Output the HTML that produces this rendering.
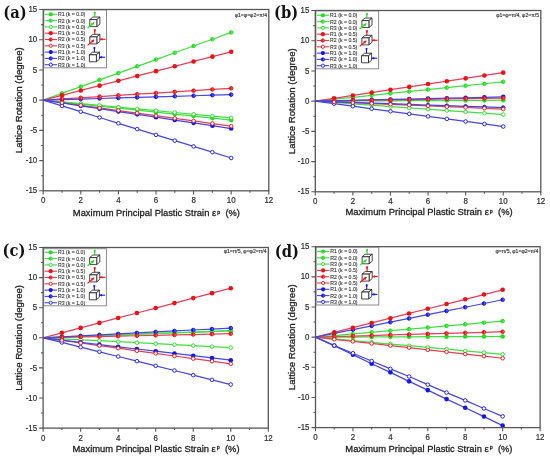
<!DOCTYPE html>
<html><head><meta charset="utf-8"><title>Lattice Rotation</title>
<style>
html,body{margin:0;padding:0;background:#fff;width:550px;height:458px;overflow:hidden}
svg{display:block}
.tk{font-family:"Liberation Sans",Arial,sans-serif;font-size:8.8px;fill:#2a2a2a;stroke:#2a2a2a;stroke-width:0.18px}
.ti{font-family:"Liberation Sans",Arial,sans-serif;font-size:9.4px;fill:#1e1e1e;stroke:#1e1e1e;stroke-width:0.3px}
.sp{font-size:5.2px}
.pc{font-size:10px}
.yt{font-size:9.65px}
.lg{font-family:"Liberation Sans",Arial,sans-serif;font-size:5.2px;fill:#333;stroke:#333;stroke-width:0.12px}
.nt{font-family:"Liberation Sans",Arial,sans-serif;font-size:5.1px;fill:#333;stroke:#333;stroke-width:0.15px}
.pl{font-family:"DejaVu Serif","Liberation Serif",serif;font-weight:bold;font-size:17.5px;fill:#111}
</style></head><body>
<svg width="550" height="458" viewBox="0 0 550 458">
<rect width="550" height="458" fill="#fff"/>
<g stroke-linejoin="round">
<polyline points="43.2,100.15 62,102.14 80.8,104.14 99.6,106.13 118.4,108.13 137.2,110.12 156,112.12 174.8,114.11 193.6,116.1 212.4,118.1 231.2,120.09" fill="none" stroke="#44de44" stroke-width="1.25"/>
<polyline points="43.2,100.15 62,93.38 80.8,86.61 99.6,79.84 118.4,73.08 137.2,66.31 156,59.54 174.8,52.77 193.6,46 212.4,39.23 231.2,32.46" fill="none" stroke="#44de44" stroke-width="1.25"/>
<polyline points="43.2,100.15 62,101.91 80.8,103.68 99.6,105.44 118.4,107.21 137.2,108.97 156,110.74 174.8,112.5 193.6,114.27 212.4,116.03 231.2,117.8" fill="none" stroke="#44de44" stroke-width="1.25"/>
<polyline points="43.2,100.15 62,95.32 80.8,90.48 99.6,85.65 118.4,80.81 137.2,75.98 156,71.14 174.8,66.31 193.6,61.47 212.4,56.64 231.2,51.8" fill="none" stroke="#e2405a" stroke-width="1.25"/>
<polyline points="43.2,100.15 62,98.97 80.8,97.78 99.6,96.6 118.4,95.41 137.2,94.23 156,93.04 174.8,91.86 193.6,90.67 212.4,89.49 231.2,88.31" fill="none" stroke="#e2405a" stroke-width="1.25"/>
<polyline points="43.2,100.15 62,102.75 80.8,105.35 99.6,107.95 118.4,110.54 137.2,113.14 156,115.74 174.8,118.34 193.6,120.94 212.4,123.54 231.2,126.14" fill="none" stroke="#e2405a" stroke-width="1.25"/>
<polyline points="43.2,100.15 62,102.99 80.8,105.83 99.6,108.67 118.4,111.51 137.2,114.35 156,117.19 174.8,120.03 193.6,122.87 212.4,125.71 231.2,128.55" fill="none" stroke="#4646e0" stroke-width="1.25"/>
<polyline points="43.2,100.15 62,99.6 80.8,99.05 99.6,98.5 118.4,97.95 137.2,97.4 156,96.85 174.8,96.3 193.6,95.75 212.4,95.2 231.2,94.65" fill="none" stroke="#4646e0" stroke-width="1.25"/>
<polyline points="43.2,100.15 62,105.93 80.8,111.72 99.6,117.5 118.4,123.28 137.2,129.07 156,134.85 174.8,140.63 193.6,146.42 212.4,152.2 231.2,157.98" fill="none" stroke="#4646e0" stroke-width="1.25"/>
<circle cx="62" cy="102.14" r="2.3" fill="#1fe01f"/>
<circle cx="80.8" cy="104.14" r="2.3" fill="#1fe01f"/>
<circle cx="99.6" cy="106.13" r="2.3" fill="#1fe01f"/>
<circle cx="118.4" cy="108.13" r="2.3" fill="#1fe01f"/>
<circle cx="137.2" cy="110.12" r="2.3" fill="#1fe01f"/>
<circle cx="156" cy="112.12" r="2.3" fill="#1fe01f"/>
<circle cx="174.8" cy="114.11" r="2.3" fill="#1fe01f"/>
<circle cx="193.6" cy="116.1" r="2.3" fill="#1fe01f"/>
<circle cx="212.4" cy="118.1" r="2.3" fill="#1fe01f"/>
<circle cx="231.2" cy="120.09" r="2.3" fill="#1fe01f"/>
<circle cx="62" cy="93.38" r="1.8" fill="#66ec66" stroke="#1fe01f" stroke-width="0.9"/><path d="M62 91.58A1.8 1.8 0 0 0 62 95.18Z" fill="#1fe01f"/>
<circle cx="80.8" cy="86.61" r="1.8" fill="#66ec66" stroke="#1fe01f" stroke-width="0.9"/><path d="M80.8 84.81A1.8 1.8 0 0 0 80.8 88.41Z" fill="#1fe01f"/>
<circle cx="99.6" cy="79.84" r="1.8" fill="#66ec66" stroke="#1fe01f" stroke-width="0.9"/><path d="M99.6 78.04A1.8 1.8 0 0 0 99.6 81.64Z" fill="#1fe01f"/>
<circle cx="118.4" cy="73.08" r="1.8" fill="#66ec66" stroke="#1fe01f" stroke-width="0.9"/><path d="M118.4 71.28A1.8 1.8 0 0 0 118.4 74.88Z" fill="#1fe01f"/>
<circle cx="137.2" cy="66.31" r="1.8" fill="#66ec66" stroke="#1fe01f" stroke-width="0.9"/><path d="M137.2 64.51A1.8 1.8 0 0 0 137.2 68.11Z" fill="#1fe01f"/>
<circle cx="156" cy="59.54" r="1.8" fill="#66ec66" stroke="#1fe01f" stroke-width="0.9"/><path d="M156 57.74A1.8 1.8 0 0 0 156 61.34Z" fill="#1fe01f"/>
<circle cx="174.8" cy="52.77" r="1.8" fill="#66ec66" stroke="#1fe01f" stroke-width="0.9"/><path d="M174.8 50.97A1.8 1.8 0 0 0 174.8 54.57Z" fill="#1fe01f"/>
<circle cx="193.6" cy="46" r="1.8" fill="#66ec66" stroke="#1fe01f" stroke-width="0.9"/><path d="M193.6 44.2A1.8 1.8 0 0 0 193.6 47.8Z" fill="#1fe01f"/>
<circle cx="212.4" cy="39.23" r="1.8" fill="#66ec66" stroke="#1fe01f" stroke-width="0.9"/><path d="M212.4 37.43A1.8 1.8 0 0 0 212.4 41.03Z" fill="#1fe01f"/>
<circle cx="231.2" cy="32.46" r="1.8" fill="#66ec66" stroke="#1fe01f" stroke-width="0.9"/><path d="M231.2 30.66A1.8 1.8 0 0 0 231.2 34.26Z" fill="#1fe01f"/>
<circle cx="62" cy="101.91" r="1.8" fill="#fff" stroke="#1fe01f" stroke-width="0.9"/>
<circle cx="80.8" cy="103.68" r="1.8" fill="#fff" stroke="#1fe01f" stroke-width="0.9"/>
<circle cx="99.6" cy="105.44" r="1.8" fill="#fff" stroke="#1fe01f" stroke-width="0.9"/>
<circle cx="118.4" cy="107.21" r="1.8" fill="#fff" stroke="#1fe01f" stroke-width="0.9"/>
<circle cx="137.2" cy="108.97" r="1.8" fill="#fff" stroke="#1fe01f" stroke-width="0.9"/>
<circle cx="156" cy="110.74" r="1.8" fill="#fff" stroke="#1fe01f" stroke-width="0.9"/>
<circle cx="174.8" cy="112.5" r="1.8" fill="#fff" stroke="#1fe01f" stroke-width="0.9"/>
<circle cx="193.6" cy="114.27" r="1.8" fill="#fff" stroke="#1fe01f" stroke-width="0.9"/>
<circle cx="212.4" cy="116.03" r="1.8" fill="#fff" stroke="#1fe01f" stroke-width="0.9"/>
<circle cx="231.2" cy="117.8" r="1.8" fill="#fff" stroke="#1fe01f" stroke-width="0.9"/>
<circle cx="62" cy="102.99" r="2.3" fill="#1515f0"/>
<circle cx="80.8" cy="105.83" r="2.3" fill="#1515f0"/>
<circle cx="99.6" cy="108.67" r="2.3" fill="#1515f0"/>
<circle cx="118.4" cy="111.51" r="2.3" fill="#1515f0"/>
<circle cx="137.2" cy="114.35" r="2.3" fill="#1515f0"/>
<circle cx="156" cy="117.19" r="2.3" fill="#1515f0"/>
<circle cx="174.8" cy="120.03" r="2.3" fill="#1515f0"/>
<circle cx="193.6" cy="122.87" r="2.3" fill="#1515f0"/>
<circle cx="212.4" cy="125.71" r="2.3" fill="#1515f0"/>
<circle cx="231.2" cy="128.55" r="2.3" fill="#1515f0"/>
<circle cx="62" cy="99.6" r="1.8" fill="#6464f2" stroke="#1515f0" stroke-width="0.9"/><path d="M62 97.8A1.8 1.8 0 0 0 62 101.4Z" fill="#1515f0"/>
<circle cx="80.8" cy="99.05" r="1.8" fill="#6464f2" stroke="#1515f0" stroke-width="0.9"/><path d="M80.8 97.25A1.8 1.8 0 0 0 80.8 100.85Z" fill="#1515f0"/>
<circle cx="99.6" cy="98.5" r="1.8" fill="#6464f2" stroke="#1515f0" stroke-width="0.9"/><path d="M99.6 96.7A1.8 1.8 0 0 0 99.6 100.3Z" fill="#1515f0"/>
<circle cx="118.4" cy="97.95" r="1.8" fill="#6464f2" stroke="#1515f0" stroke-width="0.9"/><path d="M118.4 96.15A1.8 1.8 0 0 0 118.4 99.75Z" fill="#1515f0"/>
<circle cx="137.2" cy="97.4" r="1.8" fill="#6464f2" stroke="#1515f0" stroke-width="0.9"/><path d="M137.2 95.6A1.8 1.8 0 0 0 137.2 99.2Z" fill="#1515f0"/>
<circle cx="156" cy="96.85" r="1.8" fill="#6464f2" stroke="#1515f0" stroke-width="0.9"/><path d="M156 95.05A1.8 1.8 0 0 0 156 98.65Z" fill="#1515f0"/>
<circle cx="174.8" cy="96.3" r="1.8" fill="#6464f2" stroke="#1515f0" stroke-width="0.9"/><path d="M174.8 94.5A1.8 1.8 0 0 0 174.8 98.1Z" fill="#1515f0"/>
<circle cx="193.6" cy="95.75" r="1.8" fill="#6464f2" stroke="#1515f0" stroke-width="0.9"/><path d="M193.6 93.95A1.8 1.8 0 0 0 193.6 97.55Z" fill="#1515f0"/>
<circle cx="212.4" cy="95.2" r="1.8" fill="#6464f2" stroke="#1515f0" stroke-width="0.9"/><path d="M212.4 93.4A1.8 1.8 0 0 0 212.4 97Z" fill="#1515f0"/>
<circle cx="231.2" cy="94.65" r="1.8" fill="#6464f2" stroke="#1515f0" stroke-width="0.9"/><path d="M231.2 92.85A1.8 1.8 0 0 0 231.2 96.45Z" fill="#1515f0"/>
<circle cx="62" cy="105.93" r="1.8" fill="#fff" stroke="#1515f0" stroke-width="0.9"/>
<circle cx="80.8" cy="111.72" r="1.8" fill="#fff" stroke="#1515f0" stroke-width="0.9"/>
<circle cx="99.6" cy="117.5" r="1.8" fill="#fff" stroke="#1515f0" stroke-width="0.9"/>
<circle cx="118.4" cy="123.28" r="1.8" fill="#fff" stroke="#1515f0" stroke-width="0.9"/>
<circle cx="137.2" cy="129.07" r="1.8" fill="#fff" stroke="#1515f0" stroke-width="0.9"/>
<circle cx="156" cy="134.85" r="1.8" fill="#fff" stroke="#1515f0" stroke-width="0.9"/>
<circle cx="174.8" cy="140.63" r="1.8" fill="#fff" stroke="#1515f0" stroke-width="0.9"/>
<circle cx="193.6" cy="146.42" r="1.8" fill="#fff" stroke="#1515f0" stroke-width="0.9"/>
<circle cx="212.4" cy="152.2" r="1.8" fill="#fff" stroke="#1515f0" stroke-width="0.9"/>
<circle cx="231.2" cy="157.98" r="1.8" fill="#fff" stroke="#1515f0" stroke-width="0.9"/>
<circle cx="62" cy="95.32" r="2.3" fill="#f01010"/>
<circle cx="80.8" cy="90.48" r="2.3" fill="#f01010"/>
<circle cx="99.6" cy="85.65" r="2.3" fill="#f01010"/>
<circle cx="118.4" cy="80.81" r="2.3" fill="#f01010"/>
<circle cx="137.2" cy="75.98" r="2.3" fill="#f01010"/>
<circle cx="156" cy="71.14" r="2.3" fill="#f01010"/>
<circle cx="174.8" cy="66.31" r="2.3" fill="#f01010"/>
<circle cx="193.6" cy="61.47" r="2.3" fill="#f01010"/>
<circle cx="212.4" cy="56.64" r="2.3" fill="#f01010"/>
<circle cx="231.2" cy="51.8" r="2.3" fill="#f01010"/>
<circle cx="62" cy="98.97" r="1.8" fill="#f26262" stroke="#f01010" stroke-width="0.9"/><path d="M62 97.17A1.8 1.8 0 0 0 62 100.77Z" fill="#f01010"/>
<circle cx="80.8" cy="97.78" r="1.8" fill="#f26262" stroke="#f01010" stroke-width="0.9"/><path d="M80.8 95.98A1.8 1.8 0 0 0 80.8 99.58Z" fill="#f01010"/>
<circle cx="99.6" cy="96.6" r="1.8" fill="#f26262" stroke="#f01010" stroke-width="0.9"/><path d="M99.6 94.8A1.8 1.8 0 0 0 99.6 98.4Z" fill="#f01010"/>
<circle cx="118.4" cy="95.41" r="1.8" fill="#f26262" stroke="#f01010" stroke-width="0.9"/><path d="M118.4 93.61A1.8 1.8 0 0 0 118.4 97.21Z" fill="#f01010"/>
<circle cx="137.2" cy="94.23" r="1.8" fill="#f26262" stroke="#f01010" stroke-width="0.9"/><path d="M137.2 92.43A1.8 1.8 0 0 0 137.2 96.03Z" fill="#f01010"/>
<circle cx="156" cy="93.04" r="1.8" fill="#f26262" stroke="#f01010" stroke-width="0.9"/><path d="M156 91.24A1.8 1.8 0 0 0 156 94.84Z" fill="#f01010"/>
<circle cx="174.8" cy="91.86" r="1.8" fill="#f26262" stroke="#f01010" stroke-width="0.9"/><path d="M174.8 90.06A1.8 1.8 0 0 0 174.8 93.66Z" fill="#f01010"/>
<circle cx="193.6" cy="90.67" r="1.8" fill="#f26262" stroke="#f01010" stroke-width="0.9"/><path d="M193.6 88.87A1.8 1.8 0 0 0 193.6 92.47Z" fill="#f01010"/>
<circle cx="212.4" cy="89.49" r="1.8" fill="#f26262" stroke="#f01010" stroke-width="0.9"/><path d="M212.4 87.69A1.8 1.8 0 0 0 212.4 91.29Z" fill="#f01010"/>
<circle cx="231.2" cy="88.31" r="1.8" fill="#f26262" stroke="#f01010" stroke-width="0.9"/><path d="M231.2 86.51A1.8 1.8 0 0 0 231.2 90.11Z" fill="#f01010"/>
<circle cx="62" cy="102.75" r="1.8" fill="#fff" stroke="#f01010" stroke-width="0.9"/>
<circle cx="80.8" cy="105.35" r="1.8" fill="#fff" stroke="#f01010" stroke-width="0.9"/>
<circle cx="99.6" cy="107.95" r="1.8" fill="#fff" stroke="#f01010" stroke-width="0.9"/>
<circle cx="118.4" cy="110.54" r="1.8" fill="#fff" stroke="#f01010" stroke-width="0.9"/>
<circle cx="137.2" cy="113.14" r="1.8" fill="#fff" stroke="#f01010" stroke-width="0.9"/>
<circle cx="156" cy="115.74" r="1.8" fill="#fff" stroke="#f01010" stroke-width="0.9"/>
<circle cx="174.8" cy="118.34" r="1.8" fill="#fff" stroke="#f01010" stroke-width="0.9"/>
<circle cx="193.6" cy="120.94" r="1.8" fill="#fff" stroke="#f01010" stroke-width="0.9"/>
<circle cx="212.4" cy="123.54" r="1.8" fill="#fff" stroke="#f01010" stroke-width="0.9"/>
<circle cx="231.2" cy="126.14" r="1.8" fill="#fff" stroke="#f01010" stroke-width="0.9"/>
</g>
<rect x="43.8" y="9.8" width="62.7" height="58" fill="#fff" stroke="#8a8a8a" stroke-width="1"/>
<path d="M44.7 14.3H57.1" stroke="#44de44" stroke-width="1.1"/>
<circle cx="50.8" cy="14.3" r="2.1" fill="#1fe01f"/>
<text x="58" y="16.2" class="lg">R1 (k = 0.0)</text>
<path d="M44.7 20.6H57.1" stroke="#44de44" stroke-width="1.1"/>
<circle cx="50.8" cy="20.6" r="1.6" fill="#66ec66" stroke="#1fe01f" stroke-width="0.9"/><path d="M50.8 19A1.6 1.6 0 0 0 50.8 22.2Z" fill="#1fe01f"/>
<text x="58" y="22.5" class="lg">R2 (k = 0.0)</text>
<path d="M44.7 26.9H57.1" stroke="#44de44" stroke-width="1.1"/>
<circle cx="50.8" cy="26.9" r="1.6" fill="#fff" stroke="#1fe01f" stroke-width="0.9"/>
<text x="58" y="28.8" class="lg">R3 (k = 0.0)</text>
<path d="M44.7 33.2H57.1" stroke="#e2405a" stroke-width="1.1"/>
<circle cx="50.8" cy="33.2" r="2.1" fill="#f01010"/>
<text x="58" y="35.1" class="lg">R1 (k = 0.5)</text>
<path d="M44.7 39.5H57.1" stroke="#e2405a" stroke-width="1.1"/>
<circle cx="50.8" cy="39.5" r="1.6" fill="#f26262" stroke="#f01010" stroke-width="0.9"/><path d="M50.8 37.9A1.6 1.6 0 0 0 50.8 41.1Z" fill="#f01010"/>
<text x="58" y="41.4" class="lg">R2 (k = 0.5)</text>
<path d="M44.7 45.8H57.1" stroke="#e2405a" stroke-width="1.1"/>
<circle cx="50.8" cy="45.8" r="1.6" fill="#fff" stroke="#f01010" stroke-width="0.9"/>
<text x="58" y="47.7" class="lg">R3 (k = 0.5)</text>
<path d="M44.7 52.1H57.1" stroke="#4646e0" stroke-width="1.1"/>
<circle cx="50.8" cy="52.1" r="2.1" fill="#1515f0"/>
<text x="58" y="54" class="lg">R1 (k = 1.0)</text>
<path d="M44.7 58.4H57.1" stroke="#4646e0" stroke-width="1.1"/>
<circle cx="50.8" cy="58.4" r="1.6" fill="#6464f2" stroke="#1515f0" stroke-width="0.9"/><path d="M50.8 56.8A1.6 1.6 0 0 0 50.8 60Z" fill="#1515f0"/>
<text x="58" y="60.3" class="lg">R2 (k = 1.0)</text>
<path d="M44.7 64.7H57.1" stroke="#4646e0" stroke-width="1.1"/>
<circle cx="50.8" cy="64.7" r="1.6" fill="#fff" stroke="#1515f0" stroke-width="0.9"/>
<text x="58" y="66.6" class="lg">R3 (k = 1.0)</text>
<g fill="#fff" stroke="#1a1a1a" stroke-width="0.8" stroke-linejoin="round">
<path d="M89.8 19.6L92.9 17L99.9 17L96.8 19.6Z"/>
<path d="M96.8 19.6L99.9 17L99.9 24L96.8 26.6Z"/>
<rect x="89.8" y="19.6" width="7" height="7"/>
</g>
<path d="M94.8 16.9V11.7" stroke="#1fe01f" stroke-width="1.1"/>
<path d="M93.5 12.3L96.1 12.3L94.8 14.9Z" fill="#1fe01f"/>
<path d="M94.1 22.5L87.6 28" stroke="#1fe01f" stroke-width="1.1"/>
<path d="M94.4 22.2L90.9 23.5L93.1 25.5Z" fill="#1fe01f"/>
<g fill="#fff" stroke="#1a1a1a" stroke-width="0.8" stroke-linejoin="round">
<path d="M89.8 36.9L92.9 34.3L99.9 34.3L96.8 36.9Z"/>
<path d="M96.8 36.9L99.9 34.3L99.9 41.3L96.8 43.9Z"/>
<rect x="89.8" y="36.9" width="7" height="7"/>
</g>
<path d="M94.8 34.2V29" stroke="#f01010" stroke-width="1.1"/>
<path d="M93.5 29.6L96.1 29.6L94.8 32.2Z" fill="#f01010"/>
<path d="M99.7 39.3H105.5" stroke="#f01010" stroke-width="1.1"/>
<path d="M102.5 38L102.5 40.6L99.8 39.3Z" fill="#f01010"/>
<path d="M94.1 39.8L87.6 45.3" stroke="#f01010" stroke-width="1.1"/>
<path d="M94.4 39.5L90.9 40.8L93.1 42.8Z" fill="#f01010"/>
<g fill="#fff" stroke="#1a1a1a" stroke-width="0.8" stroke-linejoin="round">
<path d="M89.4 54.8L92.5 52.2L99.5 52.2L96.4 54.8Z"/>
<path d="M96.4 54.8L99.5 52.2L99.5 59.2L96.4 61.8Z"/>
<rect x="89.4" y="54.8" width="7" height="7"/>
</g>
<path d="M94.4 52.1V46.9" stroke="#1515f0" stroke-width="1.1"/>
<path d="M93.1 47.5L95.7 47.5L94.4 50.1Z" fill="#1515f0"/>
<path d="M99.3 57.2H105.1" stroke="#1515f0" stroke-width="1.1"/>
<path d="M102.1 55.9L102.1 58.5L99.4 57.2Z" fill="#1515f0"/>
<rect x="43.2" y="9.5" width="225.6" height="181.3" fill="none" stroke="#575757" stroke-width="1.3"/>
<path d="M43.2 190.8V194.4M62 190.8V192.8M80.8 190.8V194.4M99.6 190.8V192.8M118.4 190.8V194.4M137.2 190.8V192.8M156 190.8V194.4M174.8 190.8V192.8M193.6 190.8V194.4M212.4 190.8V192.8M231.2 190.8V194.4M250 190.8V192.8M268.8 190.8V194.4M43.2 190.8H39.2M43.2 175.69H41.2M43.2 160.58H39.2M43.2 145.48H41.2M43.2 130.37H39.2M43.2 115.26H41.2M43.2 100.15H39.2M43.2 85.04H41.2M43.2 69.93H39.2M43.2 54.83H41.2M43.2 39.72H39.2M43.2 24.61H41.2M43.2 9.5H39.2" stroke="#575757" stroke-width="1.1" fill="none"/>
<text transform="translate(43.2 203.1) scale(0.9 1)" class="tk" text-anchor="middle">0</text>
<text transform="translate(80.8 203.1) scale(0.9 1)" class="tk" text-anchor="middle">2</text>
<text transform="translate(118.4 203.1) scale(0.9 1)" class="tk" text-anchor="middle">4</text>
<text transform="translate(156 203.1) scale(0.9 1)" class="tk" text-anchor="middle">6</text>
<text transform="translate(193.6 203.1) scale(0.9 1)" class="tk" text-anchor="middle">8</text>
<text transform="translate(231.2 203.1) scale(0.9 1)" class="tk" text-anchor="middle">10</text>
<text transform="translate(268.8 203.1) scale(0.9 1)" class="tk" text-anchor="middle">12</text>
<text transform="translate(37.2 193.4) scale(0.9 1)" class="tk" text-anchor="end">-15</text>
<text transform="translate(37.2 163.18) scale(0.9 1)" class="tk" text-anchor="end">-10</text>
<text transform="translate(37.2 132.97) scale(0.9 1)" class="tk" text-anchor="end">-5</text>
<text transform="translate(37.2 102.75) scale(0.9 1)" class="tk" text-anchor="end">0</text>
<text transform="translate(37.2 72.53) scale(0.9 1)" class="tk" text-anchor="end">5</text>
<text transform="translate(37.2 42.32) scale(0.9 1)" class="tk" text-anchor="end">10</text>
<text transform="translate(37.2 12.1) scale(0.9 1)" class="tk" text-anchor="end">15</text>
<text x="72.85" y="215.9" class="ti">Maximum Principal Plastic Strain ε<tspan class="sp" dx="1.0" dy="-2.4">p</tspan><tspan dy="2.4" dx="0.7"> (%)</tspan></text>
<text transform="translate(22.4 100.25) rotate(-90)" class="ti yt" text-anchor="middle">Lattice Rotation (degree)</text>
<text x="267" y="16.5" class="nt" text-anchor="end">φ1=φ=φ2=π/4</text>
<text transform="translate(3.2 18.1) scale(0.84 1)" class="pl">(a)</text>
<g stroke-linejoin="round">
<polyline points="315.3,101.15 334.09,101.06 352.88,100.97 371.68,100.88 390.47,100.79 409.26,100.7 428.05,100.61 446.84,100.52 465.63,100.42 484.42,100.33 503.22,100.24" fill="none" stroke="#44de44" stroke-width="1.25"/>
<polyline points="315.3,101.15 334.09,99.22 352.88,97.28 371.68,95.35 390.47,93.41 409.26,91.48 428.05,89.55 446.84,87.61 465.63,85.68 484.42,83.75 503.22,81.81" fill="none" stroke="#44de44" stroke-width="1.25"/>
<polyline points="315.3,101.15 334.09,102.49 352.88,103.83 371.68,105.17 390.47,106.52 409.26,107.86 428.05,109.2 446.84,110.54 465.63,111.88 484.42,113.22 503.22,114.57" fill="none" stroke="#44de44" stroke-width="1.25"/>
<polyline points="315.3,101.15 334.09,98.3 352.88,95.45 371.68,92.59 390.47,89.74 409.26,86.89 428.05,84.04 446.84,81.18 465.63,78.33 484.42,75.48 503.22,72.63" fill="none" stroke="#e2405a" stroke-width="1.25"/>
<polyline points="315.3,101.15 334.09,100.84 352.88,100.52 371.68,100.21 390.47,99.89 409.26,99.58 428.05,99.26 446.84,98.95 465.63,98.64 484.42,98.32 503.22,98.01" fill="none" stroke="#e2405a" stroke-width="1.25"/>
<polyline points="315.3,101.15 334.09,101.94 352.88,102.73 371.68,103.53 390.47,104.32 409.26,105.11 428.05,105.9 446.84,106.69 465.63,107.48 484.42,108.28 503.22,109.07" fill="none" stroke="#e2405a" stroke-width="1.25"/>
<polyline points="315.3,101.15 334.09,100.73 352.88,100.3 371.68,99.88 390.47,99.46 409.26,99.03 428.05,98.61 446.84,98.19 465.63,97.77 484.42,97.34 503.22,96.92" fill="none" stroke="#4646e0" stroke-width="1.25"/>
<polyline points="315.3,101.15 334.09,101.8 352.88,102.44 371.68,103.09 390.47,103.74 409.26,104.38 428.05,105.03 446.84,105.68 465.63,106.32 484.42,106.97 503.22,107.62" fill="none" stroke="#4646e0" stroke-width="1.25"/>
<polyline points="315.3,101.15 334.09,103.69 352.88,106.23 371.68,108.76 390.47,111.3 409.26,113.84 428.05,116.38 446.84,118.92 465.63,121.46 484.42,123.99 503.22,126.53" fill="none" stroke="#4646e0" stroke-width="1.25"/>
<circle cx="334.09" cy="101.06" r="2.3" fill="#1fe01f"/>
<circle cx="352.88" cy="100.97" r="2.3" fill="#1fe01f"/>
<circle cx="371.68" cy="100.88" r="2.3" fill="#1fe01f"/>
<circle cx="390.47" cy="100.79" r="2.3" fill="#1fe01f"/>
<circle cx="409.26" cy="100.7" r="2.3" fill="#1fe01f"/>
<circle cx="428.05" cy="100.61" r="2.3" fill="#1fe01f"/>
<circle cx="446.84" cy="100.52" r="2.3" fill="#1fe01f"/>
<circle cx="465.63" cy="100.42" r="2.3" fill="#1fe01f"/>
<circle cx="484.42" cy="100.33" r="2.3" fill="#1fe01f"/>
<circle cx="503.22" cy="100.24" r="2.3" fill="#1fe01f"/>
<circle cx="334.09" cy="99.22" r="1.8" fill="#66ec66" stroke="#1fe01f" stroke-width="0.9"/><path d="M334.09 97.42A1.8 1.8 0 0 0 334.09 101.02Z" fill="#1fe01f"/>
<circle cx="352.88" cy="97.28" r="1.8" fill="#66ec66" stroke="#1fe01f" stroke-width="0.9"/><path d="M352.88 95.48A1.8 1.8 0 0 0 352.88 99.08Z" fill="#1fe01f"/>
<circle cx="371.68" cy="95.35" r="1.8" fill="#66ec66" stroke="#1fe01f" stroke-width="0.9"/><path d="M371.68 93.55A1.8 1.8 0 0 0 371.68 97.15Z" fill="#1fe01f"/>
<circle cx="390.47" cy="93.41" r="1.8" fill="#66ec66" stroke="#1fe01f" stroke-width="0.9"/><path d="M390.47 91.61A1.8 1.8 0 0 0 390.47 95.21Z" fill="#1fe01f"/>
<circle cx="409.26" cy="91.48" r="1.8" fill="#66ec66" stroke="#1fe01f" stroke-width="0.9"/><path d="M409.26 89.68A1.8 1.8 0 0 0 409.26 93.28Z" fill="#1fe01f"/>
<circle cx="428.05" cy="89.55" r="1.8" fill="#66ec66" stroke="#1fe01f" stroke-width="0.9"/><path d="M428.05 87.75A1.8 1.8 0 0 0 428.05 91.35Z" fill="#1fe01f"/>
<circle cx="446.84" cy="87.61" r="1.8" fill="#66ec66" stroke="#1fe01f" stroke-width="0.9"/><path d="M446.84 85.81A1.8 1.8 0 0 0 446.84 89.41Z" fill="#1fe01f"/>
<circle cx="465.63" cy="85.68" r="1.8" fill="#66ec66" stroke="#1fe01f" stroke-width="0.9"/><path d="M465.63 83.88A1.8 1.8 0 0 0 465.63 87.48Z" fill="#1fe01f"/>
<circle cx="484.42" cy="83.75" r="1.8" fill="#66ec66" stroke="#1fe01f" stroke-width="0.9"/><path d="M484.42 81.95A1.8 1.8 0 0 0 484.42 85.55Z" fill="#1fe01f"/>
<circle cx="503.22" cy="81.81" r="1.8" fill="#66ec66" stroke="#1fe01f" stroke-width="0.9"/><path d="M503.22 80.01A1.8 1.8 0 0 0 503.22 83.61Z" fill="#1fe01f"/>
<circle cx="334.09" cy="102.49" r="1.8" fill="#fff" stroke="#1fe01f" stroke-width="0.9"/>
<circle cx="352.88" cy="103.83" r="1.8" fill="#fff" stroke="#1fe01f" stroke-width="0.9"/>
<circle cx="371.68" cy="105.17" r="1.8" fill="#fff" stroke="#1fe01f" stroke-width="0.9"/>
<circle cx="390.47" cy="106.52" r="1.8" fill="#fff" stroke="#1fe01f" stroke-width="0.9"/>
<circle cx="409.26" cy="107.86" r="1.8" fill="#fff" stroke="#1fe01f" stroke-width="0.9"/>
<circle cx="428.05" cy="109.2" r="1.8" fill="#fff" stroke="#1fe01f" stroke-width="0.9"/>
<circle cx="446.84" cy="110.54" r="1.8" fill="#fff" stroke="#1fe01f" stroke-width="0.9"/>
<circle cx="465.63" cy="111.88" r="1.8" fill="#fff" stroke="#1fe01f" stroke-width="0.9"/>
<circle cx="484.42" cy="113.22" r="1.8" fill="#fff" stroke="#1fe01f" stroke-width="0.9"/>
<circle cx="503.22" cy="114.57" r="1.8" fill="#fff" stroke="#1fe01f" stroke-width="0.9"/>
<circle cx="334.09" cy="100.73" r="2.3" fill="#1515f0"/>
<circle cx="352.88" cy="100.3" r="2.3" fill="#1515f0"/>
<circle cx="371.68" cy="99.88" r="2.3" fill="#1515f0"/>
<circle cx="390.47" cy="99.46" r="2.3" fill="#1515f0"/>
<circle cx="409.26" cy="99.03" r="2.3" fill="#1515f0"/>
<circle cx="428.05" cy="98.61" r="2.3" fill="#1515f0"/>
<circle cx="446.84" cy="98.19" r="2.3" fill="#1515f0"/>
<circle cx="465.63" cy="97.77" r="2.3" fill="#1515f0"/>
<circle cx="484.42" cy="97.34" r="2.3" fill="#1515f0"/>
<circle cx="503.22" cy="96.92" r="2.3" fill="#1515f0"/>
<circle cx="334.09" cy="101.8" r="1.8" fill="#6464f2" stroke="#1515f0" stroke-width="0.9"/><path d="M334.09 100A1.8 1.8 0 0 0 334.09 103.6Z" fill="#1515f0"/>
<circle cx="352.88" cy="102.44" r="1.8" fill="#6464f2" stroke="#1515f0" stroke-width="0.9"/><path d="M352.88 100.64A1.8 1.8 0 0 0 352.88 104.24Z" fill="#1515f0"/>
<circle cx="371.68" cy="103.09" r="1.8" fill="#6464f2" stroke="#1515f0" stroke-width="0.9"/><path d="M371.68 101.29A1.8 1.8 0 0 0 371.68 104.89Z" fill="#1515f0"/>
<circle cx="390.47" cy="103.74" r="1.8" fill="#6464f2" stroke="#1515f0" stroke-width="0.9"/><path d="M390.47 101.94A1.8 1.8 0 0 0 390.47 105.54Z" fill="#1515f0"/>
<circle cx="409.26" cy="104.38" r="1.8" fill="#6464f2" stroke="#1515f0" stroke-width="0.9"/><path d="M409.26 102.58A1.8 1.8 0 0 0 409.26 106.18Z" fill="#1515f0"/>
<circle cx="428.05" cy="105.03" r="1.8" fill="#6464f2" stroke="#1515f0" stroke-width="0.9"/><path d="M428.05 103.23A1.8 1.8 0 0 0 428.05 106.83Z" fill="#1515f0"/>
<circle cx="446.84" cy="105.68" r="1.8" fill="#6464f2" stroke="#1515f0" stroke-width="0.9"/><path d="M446.84 103.88A1.8 1.8 0 0 0 446.84 107.48Z" fill="#1515f0"/>
<circle cx="465.63" cy="106.32" r="1.8" fill="#6464f2" stroke="#1515f0" stroke-width="0.9"/><path d="M465.63 104.52A1.8 1.8 0 0 0 465.63 108.12Z" fill="#1515f0"/>
<circle cx="484.42" cy="106.97" r="1.8" fill="#6464f2" stroke="#1515f0" stroke-width="0.9"/><path d="M484.42 105.17A1.8 1.8 0 0 0 484.42 108.77Z" fill="#1515f0"/>
<circle cx="503.22" cy="107.62" r="1.8" fill="#6464f2" stroke="#1515f0" stroke-width="0.9"/><path d="M503.22 105.82A1.8 1.8 0 0 0 503.22 109.42Z" fill="#1515f0"/>
<circle cx="334.09" cy="103.69" r="1.8" fill="#fff" stroke="#1515f0" stroke-width="0.9"/>
<circle cx="352.88" cy="106.23" r="1.8" fill="#fff" stroke="#1515f0" stroke-width="0.9"/>
<circle cx="371.68" cy="108.76" r="1.8" fill="#fff" stroke="#1515f0" stroke-width="0.9"/>
<circle cx="390.47" cy="111.3" r="1.8" fill="#fff" stroke="#1515f0" stroke-width="0.9"/>
<circle cx="409.26" cy="113.84" r="1.8" fill="#fff" stroke="#1515f0" stroke-width="0.9"/>
<circle cx="428.05" cy="116.38" r="1.8" fill="#fff" stroke="#1515f0" stroke-width="0.9"/>
<circle cx="446.84" cy="118.92" r="1.8" fill="#fff" stroke="#1515f0" stroke-width="0.9"/>
<circle cx="465.63" cy="121.46" r="1.8" fill="#fff" stroke="#1515f0" stroke-width="0.9"/>
<circle cx="484.42" cy="123.99" r="1.8" fill="#fff" stroke="#1515f0" stroke-width="0.9"/>
<circle cx="503.22" cy="126.53" r="1.8" fill="#fff" stroke="#1515f0" stroke-width="0.9"/>
<circle cx="334.09" cy="98.3" r="2.3" fill="#f01010"/>
<circle cx="352.88" cy="95.45" r="2.3" fill="#f01010"/>
<circle cx="371.68" cy="92.59" r="2.3" fill="#f01010"/>
<circle cx="390.47" cy="89.74" r="2.3" fill="#f01010"/>
<circle cx="409.26" cy="86.89" r="2.3" fill="#f01010"/>
<circle cx="428.05" cy="84.04" r="2.3" fill="#f01010"/>
<circle cx="446.84" cy="81.18" r="2.3" fill="#f01010"/>
<circle cx="465.63" cy="78.33" r="2.3" fill="#f01010"/>
<circle cx="484.42" cy="75.48" r="2.3" fill="#f01010"/>
<circle cx="503.22" cy="72.63" r="2.3" fill="#f01010"/>
<circle cx="334.09" cy="100.84" r="1.8" fill="#f26262" stroke="#f01010" stroke-width="0.9"/><path d="M334.09 99.04A1.8 1.8 0 0 0 334.09 102.64Z" fill="#f01010"/>
<circle cx="352.88" cy="100.52" r="1.8" fill="#f26262" stroke="#f01010" stroke-width="0.9"/><path d="M352.88 98.72A1.8 1.8 0 0 0 352.88 102.32Z" fill="#f01010"/>
<circle cx="371.68" cy="100.21" r="1.8" fill="#f26262" stroke="#f01010" stroke-width="0.9"/><path d="M371.68 98.41A1.8 1.8 0 0 0 371.68 102.01Z" fill="#f01010"/>
<circle cx="390.47" cy="99.89" r="1.8" fill="#f26262" stroke="#f01010" stroke-width="0.9"/><path d="M390.47 98.09A1.8 1.8 0 0 0 390.47 101.69Z" fill="#f01010"/>
<circle cx="409.26" cy="99.58" r="1.8" fill="#f26262" stroke="#f01010" stroke-width="0.9"/><path d="M409.26 97.78A1.8 1.8 0 0 0 409.26 101.38Z" fill="#f01010"/>
<circle cx="428.05" cy="99.26" r="1.8" fill="#f26262" stroke="#f01010" stroke-width="0.9"/><path d="M428.05 97.46A1.8 1.8 0 0 0 428.05 101.06Z" fill="#f01010"/>
<circle cx="446.84" cy="98.95" r="1.8" fill="#f26262" stroke="#f01010" stroke-width="0.9"/><path d="M446.84 97.15A1.8 1.8 0 0 0 446.84 100.75Z" fill="#f01010"/>
<circle cx="465.63" cy="98.64" r="1.8" fill="#f26262" stroke="#f01010" stroke-width="0.9"/><path d="M465.63 96.84A1.8 1.8 0 0 0 465.63 100.44Z" fill="#f01010"/>
<circle cx="484.42" cy="98.32" r="1.8" fill="#f26262" stroke="#f01010" stroke-width="0.9"/><path d="M484.42 96.52A1.8 1.8 0 0 0 484.42 100.12Z" fill="#f01010"/>
<circle cx="503.22" cy="98.01" r="1.8" fill="#f26262" stroke="#f01010" stroke-width="0.9"/><path d="M503.22 96.21A1.8 1.8 0 0 0 503.22 99.81Z" fill="#f01010"/>
<circle cx="334.09" cy="101.94" r="1.8" fill="#fff" stroke="#f01010" stroke-width="0.9"/>
<circle cx="352.88" cy="102.73" r="1.8" fill="#fff" stroke="#f01010" stroke-width="0.9"/>
<circle cx="371.68" cy="103.53" r="1.8" fill="#fff" stroke="#f01010" stroke-width="0.9"/>
<circle cx="390.47" cy="104.32" r="1.8" fill="#fff" stroke="#f01010" stroke-width="0.9"/>
<circle cx="409.26" cy="105.11" r="1.8" fill="#fff" stroke="#f01010" stroke-width="0.9"/>
<circle cx="428.05" cy="105.9" r="1.8" fill="#fff" stroke="#f01010" stroke-width="0.9"/>
<circle cx="446.84" cy="106.69" r="1.8" fill="#fff" stroke="#f01010" stroke-width="0.9"/>
<circle cx="465.63" cy="107.48" r="1.8" fill="#fff" stroke="#f01010" stroke-width="0.9"/>
<circle cx="484.42" cy="108.28" r="1.8" fill="#fff" stroke="#f01010" stroke-width="0.9"/>
<circle cx="503.22" cy="109.07" r="1.8" fill="#fff" stroke="#f01010" stroke-width="0.9"/>
</g>
<rect x="315.9" y="10.8" width="62.7" height="58" fill="#fff" stroke="#8a8a8a" stroke-width="1"/>
<path d="M316.8 15.3H329.2" stroke="#44de44" stroke-width="1.1"/>
<circle cx="322.9" cy="15.3" r="2.1" fill="#1fe01f"/>
<text x="330.1" y="17.2" class="lg">R1 (k = 0.0)</text>
<path d="M316.8 21.6H329.2" stroke="#44de44" stroke-width="1.1"/>
<circle cx="322.9" cy="21.6" r="1.6" fill="#66ec66" stroke="#1fe01f" stroke-width="0.9"/><path d="M322.9 20A1.6 1.6 0 0 0 322.9 23.2Z" fill="#1fe01f"/>
<text x="330.1" y="23.5" class="lg">R2 (k = 0.0)</text>
<path d="M316.8 27.9H329.2" stroke="#44de44" stroke-width="1.1"/>
<circle cx="322.9" cy="27.9" r="1.6" fill="#fff" stroke="#1fe01f" stroke-width="0.9"/>
<text x="330.1" y="29.8" class="lg">R3 (k = 0.0)</text>
<path d="M316.8 34.2H329.2" stroke="#e2405a" stroke-width="1.1"/>
<circle cx="322.9" cy="34.2" r="2.1" fill="#f01010"/>
<text x="330.1" y="36.1" class="lg">R1 (k = 0.5)</text>
<path d="M316.8 40.5H329.2" stroke="#e2405a" stroke-width="1.1"/>
<circle cx="322.9" cy="40.5" r="1.6" fill="#f26262" stroke="#f01010" stroke-width="0.9"/><path d="M322.9 38.9A1.6 1.6 0 0 0 322.9 42.1Z" fill="#f01010"/>
<text x="330.1" y="42.4" class="lg">R2 (k = 0.5)</text>
<path d="M316.8 46.8H329.2" stroke="#e2405a" stroke-width="1.1"/>
<circle cx="322.9" cy="46.8" r="1.6" fill="#fff" stroke="#f01010" stroke-width="0.9"/>
<text x="330.1" y="48.7" class="lg">R3 (k = 0.5)</text>
<path d="M316.8 53.1H329.2" stroke="#4646e0" stroke-width="1.1"/>
<circle cx="322.9" cy="53.1" r="2.1" fill="#1515f0"/>
<text x="330.1" y="55" class="lg">R1 (k = 1.0)</text>
<path d="M316.8 59.4H329.2" stroke="#4646e0" stroke-width="1.1"/>
<circle cx="322.9" cy="59.4" r="1.6" fill="#6464f2" stroke="#1515f0" stroke-width="0.9"/><path d="M322.9 57.8A1.6 1.6 0 0 0 322.9 61Z" fill="#1515f0"/>
<text x="330.1" y="61.3" class="lg">R2 (k = 1.0)</text>
<path d="M316.8 65.7H329.2" stroke="#4646e0" stroke-width="1.1"/>
<circle cx="322.9" cy="65.7" r="1.6" fill="#fff" stroke="#1515f0" stroke-width="0.9"/>
<text x="330.1" y="67.6" class="lg">R3 (k = 1.0)</text>
<g fill="#fff" stroke="#1a1a1a" stroke-width="0.8" stroke-linejoin="round">
<path d="M361.9 20.6L365 18L372 18L368.9 20.6Z"/>
<path d="M368.9 20.6L372 18L372 25L368.9 27.6Z"/>
<rect x="361.9" y="20.6" width="7" height="7"/>
</g>
<path d="M366.9 17.9V12.7" stroke="#1fe01f" stroke-width="1.1"/>
<path d="M365.6 13.3L368.2 13.3L366.9 15.9Z" fill="#1fe01f"/>
<path d="M366.2 23.5L359.7 29" stroke="#1fe01f" stroke-width="1.1"/>
<path d="M366.5 23.2L363 24.5L365.2 26.5Z" fill="#1fe01f"/>
<g fill="#fff" stroke="#1a1a1a" stroke-width="0.8" stroke-linejoin="round">
<path d="M361.9 37.9L365 35.3L372 35.3L368.9 37.9Z"/>
<path d="M368.9 37.9L372 35.3L372 42.3L368.9 44.9Z"/>
<rect x="361.9" y="37.9" width="7" height="7"/>
</g>
<path d="M366.9 35.2V30" stroke="#f01010" stroke-width="1.1"/>
<path d="M365.6 30.6L368.2 30.6L366.9 33.2Z" fill="#f01010"/>
<path d="M371.8 40.3H377.6" stroke="#f01010" stroke-width="1.1"/>
<path d="M374.6 39L374.6 41.6L371.9 40.3Z" fill="#f01010"/>
<path d="M366.2 40.8L359.7 46.3" stroke="#f01010" stroke-width="1.1"/>
<path d="M366.5 40.5L363 41.8L365.2 43.8Z" fill="#f01010"/>
<g fill="#fff" stroke="#1a1a1a" stroke-width="0.8" stroke-linejoin="round">
<path d="M361.5 55.8L364.6 53.2L371.6 53.2L368.5 55.8Z"/>
<path d="M368.5 55.8L371.6 53.2L371.6 60.2L368.5 62.8Z"/>
<rect x="361.5" y="55.8" width="7" height="7"/>
</g>
<path d="M366.5 53.1V47.9" stroke="#1515f0" stroke-width="1.1"/>
<path d="M365.2 48.5L367.8 48.5L366.5 51.1Z" fill="#1515f0"/>
<path d="M371.4 58.2H377.2" stroke="#1515f0" stroke-width="1.1"/>
<path d="M374.2 56.9L374.2 59.5L371.5 58.2Z" fill="#1515f0"/>
<rect x="315.3" y="10.5" width="225.5" height="181.3" fill="none" stroke="#575757" stroke-width="1.3"/>
<path d="M315.3 191.8V195.4M334.09 191.8V193.8M352.88 191.8V195.4M371.68 191.8V193.8M390.47 191.8V195.4M409.26 191.8V193.8M428.05 191.8V195.4M446.84 191.8V193.8M465.63 191.8V195.4M484.42 191.8V193.8M503.22 191.8V195.4M522.01 191.8V193.8M540.8 191.8V195.4M315.3 191.8H311.3M315.3 176.69H313.3M315.3 161.58H311.3M315.3 146.48H313.3M315.3 131.37H311.3M315.3 116.26H313.3M315.3 101.15H311.3M315.3 86.04H313.3M315.3 70.93H311.3M315.3 55.83H313.3M315.3 40.72H311.3M315.3 25.61H313.3M315.3 10.5H311.3" stroke="#575757" stroke-width="1.1" fill="none"/>
<text transform="translate(315.3 204.1) scale(0.9 1)" class="tk" text-anchor="middle">0</text>
<text transform="translate(352.88 204.1) scale(0.9 1)" class="tk" text-anchor="middle">2</text>
<text transform="translate(390.47 204.1) scale(0.9 1)" class="tk" text-anchor="middle">4</text>
<text transform="translate(428.05 204.1) scale(0.9 1)" class="tk" text-anchor="middle">6</text>
<text transform="translate(465.63 204.1) scale(0.9 1)" class="tk" text-anchor="middle">8</text>
<text transform="translate(503.22 204.1) scale(0.9 1)" class="tk" text-anchor="middle">10</text>
<text transform="translate(540.8 204.1) scale(0.9 1)" class="tk" text-anchor="middle">12</text>
<text transform="translate(309.3 194.4) scale(0.9 1)" class="tk" text-anchor="end">-15</text>
<text transform="translate(309.3 164.18) scale(0.9 1)" class="tk" text-anchor="end">-10</text>
<text transform="translate(309.3 133.97) scale(0.9 1)" class="tk" text-anchor="end">-5</text>
<text transform="translate(309.3 103.75) scale(0.9 1)" class="tk" text-anchor="end">0</text>
<text transform="translate(309.3 73.53) scale(0.9 1)" class="tk" text-anchor="end">5</text>
<text transform="translate(309.3 43.32) scale(0.9 1)" class="tk" text-anchor="end">10</text>
<text transform="translate(309.3 13.1) scale(0.9 1)" class="tk" text-anchor="end">15</text>
<text x="345.55" y="215.4" class="ti">Maximum Principal Plastic Strain ε<tspan class="sp" dx="1.0" dy="-2.4">p</tspan><tspan dy="2.4" dx="0.7"> (%)</tspan></text>
<text transform="translate(294.5 101.25) rotate(-90)" class="ti yt" text-anchor="middle">Lattice Rotation (degree)</text>
<text x="539" y="16.6" class="nt" text-anchor="end">φ1=φ=π/4, φ2=π/5</text>
<text transform="translate(274 18.1) scale(0.84 1)" class="pl">(b)</text>
<g stroke-linejoin="round">
<polyline points="43.1,337.8 61.87,337.11 80.63,336.43 99.4,335.74 118.17,335.05 136.93,334.37 155.7,333.68 174.47,333 193.23,332.31 212,331.62 230.77,330.94" fill="none" stroke="#44de44" stroke-width="1.25"/>
<polyline points="43.1,337.8 61.87,337.08 80.63,336.36 99.4,335.63 118.17,334.91 136.93,334.19 155.7,333.47 174.47,332.74 193.23,332.02 212,331.3 230.77,330.58" fill="none" stroke="#44de44" stroke-width="1.25"/>
<polyline points="43.1,337.8 61.87,338.78 80.63,339.76 99.4,340.74 118.17,341.73 136.93,342.71 155.7,343.69 174.47,344.67 193.23,345.65 212,346.63 230.77,347.61" fill="none" stroke="#44de44" stroke-width="1.25"/>
<polyline points="43.1,337.8 61.87,332.84 80.63,327.88 99.4,322.92 118.17,317.96 136.93,313 155.7,308.04 174.47,303.08 193.23,298.12 212,293.16 230.77,288.2" fill="none" stroke="#e2405a" stroke-width="1.25"/>
<polyline points="43.1,337.8 61.87,337.39 80.63,336.98 99.4,336.57 118.17,336.16 136.93,335.75 155.7,335.34 174.47,334.93 193.23,334.53 212,334.12 230.77,333.71" fill="none" stroke="#e2405a" stroke-width="1.25"/>
<polyline points="43.1,337.8 61.87,340.4 80.63,343 99.4,345.6 118.17,348.2 136.93,350.8 155.7,353.4 174.47,356 193.23,358.61 212,361.21 230.77,363.81" fill="none" stroke="#e2405a" stroke-width="1.25"/>
<polyline points="43.1,337.8 61.87,340.04 80.63,342.28 99.4,344.52 118.17,346.76 136.93,349 155.7,351.24 174.47,353.48 193.23,355.72 212,357.95 230.77,360.19" fill="none" stroke="#4646e0" stroke-width="1.25"/>
<polyline points="43.1,337.8 61.87,336.82 80.63,335.85 99.4,334.87 118.17,333.9 136.93,332.92 155.7,331.95 174.47,330.97 193.23,330 212,329.02 230.77,328.05" fill="none" stroke="#4646e0" stroke-width="1.25"/>
<polyline points="43.1,337.8 61.87,342.47 80.63,347.14 99.4,351.81 118.17,356.49 136.93,361.16 155.7,365.83 174.47,370.5 193.23,375.17 212,379.84 230.77,384.52" fill="none" stroke="#4646e0" stroke-width="1.25"/>
<circle cx="61.87" cy="337.11" r="2.3" fill="#1fe01f"/>
<circle cx="80.63" cy="336.43" r="2.3" fill="#1fe01f"/>
<circle cx="99.4" cy="335.74" r="2.3" fill="#1fe01f"/>
<circle cx="118.17" cy="335.05" r="2.3" fill="#1fe01f"/>
<circle cx="136.93" cy="334.37" r="2.3" fill="#1fe01f"/>
<circle cx="155.7" cy="333.68" r="2.3" fill="#1fe01f"/>
<circle cx="174.47" cy="333" r="2.3" fill="#1fe01f"/>
<circle cx="193.23" cy="332.31" r="2.3" fill="#1fe01f"/>
<circle cx="212" cy="331.62" r="2.3" fill="#1fe01f"/>
<circle cx="230.77" cy="330.94" r="2.3" fill="#1fe01f"/>
<circle cx="61.87" cy="337.08" r="1.8" fill="#66ec66" stroke="#1fe01f" stroke-width="0.9"/><path d="M61.87 335.28A1.8 1.8 0 0 0 61.87 338.88Z" fill="#1fe01f"/>
<circle cx="80.63" cy="336.36" r="1.8" fill="#66ec66" stroke="#1fe01f" stroke-width="0.9"/><path d="M80.63 334.56A1.8 1.8 0 0 0 80.63 338.16Z" fill="#1fe01f"/>
<circle cx="99.4" cy="335.63" r="1.8" fill="#66ec66" stroke="#1fe01f" stroke-width="0.9"/><path d="M99.4 333.83A1.8 1.8 0 0 0 99.4 337.43Z" fill="#1fe01f"/>
<circle cx="118.17" cy="334.91" r="1.8" fill="#66ec66" stroke="#1fe01f" stroke-width="0.9"/><path d="M118.17 333.11A1.8 1.8 0 0 0 118.17 336.71Z" fill="#1fe01f"/>
<circle cx="136.93" cy="334.19" r="1.8" fill="#66ec66" stroke="#1fe01f" stroke-width="0.9"/><path d="M136.93 332.39A1.8 1.8 0 0 0 136.93 335.99Z" fill="#1fe01f"/>
<circle cx="155.7" cy="333.47" r="1.8" fill="#66ec66" stroke="#1fe01f" stroke-width="0.9"/><path d="M155.7 331.67A1.8 1.8 0 0 0 155.7 335.27Z" fill="#1fe01f"/>
<circle cx="174.47" cy="332.74" r="1.8" fill="#66ec66" stroke="#1fe01f" stroke-width="0.9"/><path d="M174.47 330.94A1.8 1.8 0 0 0 174.47 334.54Z" fill="#1fe01f"/>
<circle cx="193.23" cy="332.02" r="1.8" fill="#66ec66" stroke="#1fe01f" stroke-width="0.9"/><path d="M193.23 330.22A1.8 1.8 0 0 0 193.23 333.82Z" fill="#1fe01f"/>
<circle cx="212" cy="331.3" r="1.8" fill="#66ec66" stroke="#1fe01f" stroke-width="0.9"/><path d="M212 329.5A1.8 1.8 0 0 0 212 333.1Z" fill="#1fe01f"/>
<circle cx="230.77" cy="330.58" r="1.8" fill="#66ec66" stroke="#1fe01f" stroke-width="0.9"/><path d="M230.77 328.78A1.8 1.8 0 0 0 230.77 332.38Z" fill="#1fe01f"/>
<circle cx="61.87" cy="338.78" r="1.8" fill="#fff" stroke="#1fe01f" stroke-width="0.9"/>
<circle cx="80.63" cy="339.76" r="1.8" fill="#fff" stroke="#1fe01f" stroke-width="0.9"/>
<circle cx="99.4" cy="340.74" r="1.8" fill="#fff" stroke="#1fe01f" stroke-width="0.9"/>
<circle cx="118.17" cy="341.73" r="1.8" fill="#fff" stroke="#1fe01f" stroke-width="0.9"/>
<circle cx="136.93" cy="342.71" r="1.8" fill="#fff" stroke="#1fe01f" stroke-width="0.9"/>
<circle cx="155.7" cy="343.69" r="1.8" fill="#fff" stroke="#1fe01f" stroke-width="0.9"/>
<circle cx="174.47" cy="344.67" r="1.8" fill="#fff" stroke="#1fe01f" stroke-width="0.9"/>
<circle cx="193.23" cy="345.65" r="1.8" fill="#fff" stroke="#1fe01f" stroke-width="0.9"/>
<circle cx="212" cy="346.63" r="1.8" fill="#fff" stroke="#1fe01f" stroke-width="0.9"/>
<circle cx="230.77" cy="347.61" r="1.8" fill="#fff" stroke="#1fe01f" stroke-width="0.9"/>
<circle cx="61.87" cy="340.04" r="2.3" fill="#1515f0"/>
<circle cx="80.63" cy="342.28" r="2.3" fill="#1515f0"/>
<circle cx="99.4" cy="344.52" r="2.3" fill="#1515f0"/>
<circle cx="118.17" cy="346.76" r="2.3" fill="#1515f0"/>
<circle cx="136.93" cy="349" r="2.3" fill="#1515f0"/>
<circle cx="155.7" cy="351.24" r="2.3" fill="#1515f0"/>
<circle cx="174.47" cy="353.48" r="2.3" fill="#1515f0"/>
<circle cx="193.23" cy="355.72" r="2.3" fill="#1515f0"/>
<circle cx="212" cy="357.95" r="2.3" fill="#1515f0"/>
<circle cx="230.77" cy="360.19" r="2.3" fill="#1515f0"/>
<circle cx="61.87" cy="336.82" r="1.8" fill="#6464f2" stroke="#1515f0" stroke-width="0.9"/><path d="M61.87 335.02A1.8 1.8 0 0 0 61.87 338.62Z" fill="#1515f0"/>
<circle cx="80.63" cy="335.85" r="1.8" fill="#6464f2" stroke="#1515f0" stroke-width="0.9"/><path d="M80.63 334.05A1.8 1.8 0 0 0 80.63 337.65Z" fill="#1515f0"/>
<circle cx="99.4" cy="334.87" r="1.8" fill="#6464f2" stroke="#1515f0" stroke-width="0.9"/><path d="M99.4 333.07A1.8 1.8 0 0 0 99.4 336.67Z" fill="#1515f0"/>
<circle cx="118.17" cy="333.9" r="1.8" fill="#6464f2" stroke="#1515f0" stroke-width="0.9"/><path d="M118.17 332.1A1.8 1.8 0 0 0 118.17 335.7Z" fill="#1515f0"/>
<circle cx="136.93" cy="332.92" r="1.8" fill="#6464f2" stroke="#1515f0" stroke-width="0.9"/><path d="M136.93 331.12A1.8 1.8 0 0 0 136.93 334.72Z" fill="#1515f0"/>
<circle cx="155.7" cy="331.95" r="1.8" fill="#6464f2" stroke="#1515f0" stroke-width="0.9"/><path d="M155.7 330.15A1.8 1.8 0 0 0 155.7 333.75Z" fill="#1515f0"/>
<circle cx="174.47" cy="330.97" r="1.8" fill="#6464f2" stroke="#1515f0" stroke-width="0.9"/><path d="M174.47 329.17A1.8 1.8 0 0 0 174.47 332.77Z" fill="#1515f0"/>
<circle cx="193.23" cy="330" r="1.8" fill="#6464f2" stroke="#1515f0" stroke-width="0.9"/><path d="M193.23 328.2A1.8 1.8 0 0 0 193.23 331.8Z" fill="#1515f0"/>
<circle cx="212" cy="329.02" r="1.8" fill="#6464f2" stroke="#1515f0" stroke-width="0.9"/><path d="M212 327.22A1.8 1.8 0 0 0 212 330.82Z" fill="#1515f0"/>
<circle cx="230.77" cy="328.05" r="1.8" fill="#6464f2" stroke="#1515f0" stroke-width="0.9"/><path d="M230.77 326.25A1.8 1.8 0 0 0 230.77 329.85Z" fill="#1515f0"/>
<circle cx="61.87" cy="342.47" r="1.8" fill="#fff" stroke="#1515f0" stroke-width="0.9"/>
<circle cx="80.63" cy="347.14" r="1.8" fill="#fff" stroke="#1515f0" stroke-width="0.9"/>
<circle cx="99.4" cy="351.81" r="1.8" fill="#fff" stroke="#1515f0" stroke-width="0.9"/>
<circle cx="118.17" cy="356.49" r="1.8" fill="#fff" stroke="#1515f0" stroke-width="0.9"/>
<circle cx="136.93" cy="361.16" r="1.8" fill="#fff" stroke="#1515f0" stroke-width="0.9"/>
<circle cx="155.7" cy="365.83" r="1.8" fill="#fff" stroke="#1515f0" stroke-width="0.9"/>
<circle cx="174.47" cy="370.5" r="1.8" fill="#fff" stroke="#1515f0" stroke-width="0.9"/>
<circle cx="193.23" cy="375.17" r="1.8" fill="#fff" stroke="#1515f0" stroke-width="0.9"/>
<circle cx="212" cy="379.84" r="1.8" fill="#fff" stroke="#1515f0" stroke-width="0.9"/>
<circle cx="230.77" cy="384.52" r="1.8" fill="#fff" stroke="#1515f0" stroke-width="0.9"/>
<circle cx="61.87" cy="332.84" r="2.3" fill="#f01010"/>
<circle cx="80.63" cy="327.88" r="2.3" fill="#f01010"/>
<circle cx="99.4" cy="322.92" r="2.3" fill="#f01010"/>
<circle cx="118.17" cy="317.96" r="2.3" fill="#f01010"/>
<circle cx="136.93" cy="313" r="2.3" fill="#f01010"/>
<circle cx="155.7" cy="308.04" r="2.3" fill="#f01010"/>
<circle cx="174.47" cy="303.08" r="2.3" fill="#f01010"/>
<circle cx="193.23" cy="298.12" r="2.3" fill="#f01010"/>
<circle cx="212" cy="293.16" r="2.3" fill="#f01010"/>
<circle cx="230.77" cy="288.2" r="2.3" fill="#f01010"/>
<circle cx="61.87" cy="337.39" r="1.8" fill="#f26262" stroke="#f01010" stroke-width="0.9"/><path d="M61.87 335.59A1.8 1.8 0 0 0 61.87 339.19Z" fill="#f01010"/>
<circle cx="80.63" cy="336.98" r="1.8" fill="#f26262" stroke="#f01010" stroke-width="0.9"/><path d="M80.63 335.18A1.8 1.8 0 0 0 80.63 338.78Z" fill="#f01010"/>
<circle cx="99.4" cy="336.57" r="1.8" fill="#f26262" stroke="#f01010" stroke-width="0.9"/><path d="M99.4 334.77A1.8 1.8 0 0 0 99.4 338.37Z" fill="#f01010"/>
<circle cx="118.17" cy="336.16" r="1.8" fill="#f26262" stroke="#f01010" stroke-width="0.9"/><path d="M118.17 334.36A1.8 1.8 0 0 0 118.17 337.96Z" fill="#f01010"/>
<circle cx="136.93" cy="335.75" r="1.8" fill="#f26262" stroke="#f01010" stroke-width="0.9"/><path d="M136.93 333.95A1.8 1.8 0 0 0 136.93 337.55Z" fill="#f01010"/>
<circle cx="155.7" cy="335.34" r="1.8" fill="#f26262" stroke="#f01010" stroke-width="0.9"/><path d="M155.7 333.54A1.8 1.8 0 0 0 155.7 337.14Z" fill="#f01010"/>
<circle cx="174.47" cy="334.93" r="1.8" fill="#f26262" stroke="#f01010" stroke-width="0.9"/><path d="M174.47 333.13A1.8 1.8 0 0 0 174.47 336.73Z" fill="#f01010"/>
<circle cx="193.23" cy="334.53" r="1.8" fill="#f26262" stroke="#f01010" stroke-width="0.9"/><path d="M193.23 332.73A1.8 1.8 0 0 0 193.23 336.33Z" fill="#f01010"/>
<circle cx="212" cy="334.12" r="1.8" fill="#f26262" stroke="#f01010" stroke-width="0.9"/><path d="M212 332.32A1.8 1.8 0 0 0 212 335.92Z" fill="#f01010"/>
<circle cx="230.77" cy="333.71" r="1.8" fill="#f26262" stroke="#f01010" stroke-width="0.9"/><path d="M230.77 331.91A1.8 1.8 0 0 0 230.77 335.51Z" fill="#f01010"/>
<circle cx="61.87" cy="340.4" r="1.8" fill="#fff" stroke="#f01010" stroke-width="0.9"/>
<circle cx="80.63" cy="343" r="1.8" fill="#fff" stroke="#f01010" stroke-width="0.9"/>
<circle cx="99.4" cy="345.6" r="1.8" fill="#fff" stroke="#f01010" stroke-width="0.9"/>
<circle cx="118.17" cy="348.2" r="1.8" fill="#fff" stroke="#f01010" stroke-width="0.9"/>
<circle cx="136.93" cy="350.8" r="1.8" fill="#fff" stroke="#f01010" stroke-width="0.9"/>
<circle cx="155.7" cy="353.4" r="1.8" fill="#fff" stroke="#f01010" stroke-width="0.9"/>
<circle cx="174.47" cy="356" r="1.8" fill="#fff" stroke="#f01010" stroke-width="0.9"/>
<circle cx="193.23" cy="358.61" r="1.8" fill="#fff" stroke="#f01010" stroke-width="0.9"/>
<circle cx="212" cy="361.21" r="1.8" fill="#fff" stroke="#f01010" stroke-width="0.9"/>
<circle cx="230.77" cy="363.81" r="1.8" fill="#fff" stroke="#f01010" stroke-width="0.9"/>
</g>
<rect x="43.7" y="248.7" width="62.7" height="57.1" fill="#fff" stroke="#8a8a8a" stroke-width="1"/>
<path d="M44.6 252.3H57" stroke="#44de44" stroke-width="1.1"/>
<circle cx="50.7" cy="252.3" r="2.1" fill="#1fe01f"/>
<text x="57.9" y="254.2" class="lg">R1 (k = 0.0)</text>
<path d="M44.6 258.6H57" stroke="#44de44" stroke-width="1.1"/>
<circle cx="50.7" cy="258.6" r="1.6" fill="#66ec66" stroke="#1fe01f" stroke-width="0.9"/><path d="M50.7 257A1.6 1.6 0 0 0 50.7 260.2Z" fill="#1fe01f"/>
<text x="57.9" y="260.5" class="lg">R2 (k = 0.0)</text>
<path d="M44.6 264.9H57" stroke="#44de44" stroke-width="1.1"/>
<circle cx="50.7" cy="264.9" r="1.6" fill="#fff" stroke="#1fe01f" stroke-width="0.9"/>
<text x="57.9" y="266.8" class="lg">R3 (k = 0.0)</text>
<path d="M44.6 271.2H57" stroke="#e2405a" stroke-width="1.1"/>
<circle cx="50.7" cy="271.2" r="2.1" fill="#f01010"/>
<text x="57.9" y="273.1" class="lg">R1 (k = 0.5)</text>
<path d="M44.6 277.5H57" stroke="#e2405a" stroke-width="1.1"/>
<circle cx="50.7" cy="277.5" r="1.6" fill="#f26262" stroke="#f01010" stroke-width="0.9"/><path d="M50.7 275.9A1.6 1.6 0 0 0 50.7 279.1Z" fill="#f01010"/>
<text x="57.9" y="279.4" class="lg">R2 (k = 0.5)</text>
<path d="M44.6 283.8H57" stroke="#e2405a" stroke-width="1.1"/>
<circle cx="50.7" cy="283.8" r="1.6" fill="#fff" stroke="#f01010" stroke-width="0.9"/>
<text x="57.9" y="285.7" class="lg">R3 (k = 0.5)</text>
<path d="M44.6 290.1H57" stroke="#4646e0" stroke-width="1.1"/>
<circle cx="50.7" cy="290.1" r="2.1" fill="#1515f0"/>
<text x="57.9" y="292" class="lg">R1 (k = 1.0)</text>
<path d="M44.6 296.4H57" stroke="#4646e0" stroke-width="1.1"/>
<circle cx="50.7" cy="296.4" r="1.6" fill="#6464f2" stroke="#1515f0" stroke-width="0.9"/><path d="M50.7 294.8A1.6 1.6 0 0 0 50.7 298Z" fill="#1515f0"/>
<text x="57.9" y="298.3" class="lg">R2 (k = 1.0)</text>
<path d="M44.6 302.7H57" stroke="#4646e0" stroke-width="1.1"/>
<circle cx="50.7" cy="302.7" r="1.6" fill="#fff" stroke="#1515f0" stroke-width="0.9"/>
<text x="57.9" y="304.6" class="lg">R3 (k = 1.0)</text>
<g fill="#fff" stroke="#1a1a1a" stroke-width="0.8" stroke-linejoin="round">
<path d="M89.7 257.6L92.8 255L99.8 255L96.7 257.6Z"/>
<path d="M96.7 257.6L99.8 255L99.8 262L96.7 264.6Z"/>
<rect x="89.7" y="257.6" width="7" height="7"/>
</g>
<path d="M94.7 254.9V249.7" stroke="#1fe01f" stroke-width="1.1"/>
<path d="M93.4 250.3L96 250.3L94.7 252.9Z" fill="#1fe01f"/>
<path d="M94 260.5L87.5 266" stroke="#1fe01f" stroke-width="1.1"/>
<path d="M94.3 260.2L90.8 261.5L93 263.5Z" fill="#1fe01f"/>
<g fill="#fff" stroke="#1a1a1a" stroke-width="0.8" stroke-linejoin="round">
<path d="M89.7 274.9L92.8 272.3L99.8 272.3L96.7 274.9Z"/>
<path d="M96.7 274.9L99.8 272.3L99.8 279.3L96.7 281.9Z"/>
<rect x="89.7" y="274.9" width="7" height="7"/>
</g>
<path d="M94.7 272.2V267" stroke="#f01010" stroke-width="1.1"/>
<path d="M93.4 267.6L96 267.6L94.7 270.2Z" fill="#f01010"/>
<path d="M99.6 277.3H105.4" stroke="#f01010" stroke-width="1.1"/>
<path d="M102.4 276L102.4 278.6L99.7 277.3Z" fill="#f01010"/>
<path d="M94 277.8L87.5 283.3" stroke="#f01010" stroke-width="1.1"/>
<path d="M94.3 277.5L90.8 278.8L93 280.8Z" fill="#f01010"/>
<g fill="#fff" stroke="#1a1a1a" stroke-width="0.8" stroke-linejoin="round">
<path d="M89.3 292.8L92.4 290.2L99.4 290.2L96.3 292.8Z"/>
<path d="M96.3 292.8L99.4 290.2L99.4 297.2L96.3 299.8Z"/>
<rect x="89.3" y="292.8" width="7" height="7"/>
</g>
<path d="M94.3 290.1V284.9" stroke="#1515f0" stroke-width="1.1"/>
<path d="M93 285.5L95.6 285.5L94.3 288.1Z" fill="#1515f0"/>
<path d="M99.2 295.2H105" stroke="#1515f0" stroke-width="1.1"/>
<path d="M102 293.9L102 296.5L99.3 295.2Z" fill="#1515f0"/>
<rect x="43.1" y="247.5" width="225.2" height="180.6" fill="none" stroke="#575757" stroke-width="1.3"/>
<path d="M43.1 428.1V431.7M61.87 428.1V430.1M80.63 428.1V431.7M99.4 428.1V430.1M118.17 428.1V431.7M136.93 428.1V430.1M155.7 428.1V431.7M174.47 428.1V430.1M193.23 428.1V431.7M212 428.1V430.1M230.77 428.1V431.7M249.53 428.1V430.1M268.3 428.1V431.7M43.1 428.1H39.1M43.1 413.05H41.1M43.1 398H39.1M43.1 382.95H41.1M43.1 367.9H39.1M43.1 352.85H41.1M43.1 337.8H39.1M43.1 322.75H41.1M43.1 307.7H39.1M43.1 292.65H41.1M43.1 277.6H39.1M43.1 262.55H41.1M43.1 247.5H39.1" stroke="#575757" stroke-width="1.1" fill="none"/>
<text transform="translate(43.1 441.1) scale(0.9 1)" class="tk" text-anchor="middle">0</text>
<text transform="translate(80.63 441.1) scale(0.9 1)" class="tk" text-anchor="middle">2</text>
<text transform="translate(118.17 441.1) scale(0.9 1)" class="tk" text-anchor="middle">4</text>
<text transform="translate(155.7 441.1) scale(0.9 1)" class="tk" text-anchor="middle">6</text>
<text transform="translate(193.23 441.1) scale(0.9 1)" class="tk" text-anchor="middle">8</text>
<text transform="translate(230.77 441.1) scale(0.9 1)" class="tk" text-anchor="middle">10</text>
<text transform="translate(268.3 441.1) scale(0.9 1)" class="tk" text-anchor="middle">12</text>
<text transform="translate(37.1 430.7) scale(0.9 1)" class="tk" text-anchor="end">-15</text>
<text transform="translate(37.1 400.6) scale(0.9 1)" class="tk" text-anchor="end">-10</text>
<text transform="translate(37.1 370.5) scale(0.9 1)" class="tk" text-anchor="end">-5</text>
<text transform="translate(37.1 340.4) scale(0.9 1)" class="tk" text-anchor="end">0</text>
<text transform="translate(37.1 310.3) scale(0.9 1)" class="tk" text-anchor="end">5</text>
<text transform="translate(37.1 280.2) scale(0.9 1)" class="tk" text-anchor="end">10</text>
<text transform="translate(37.1 250.1) scale(0.9 1)" class="tk" text-anchor="end">15</text>
<text x="72.45" y="451.8" class="ti">Maximum Principal Plastic Strain ε<tspan class="sp" dx="1.0" dy="-2.4">p</tspan><tspan dy="2.4" dx="0.7"> (%)</tspan></text>
<text transform="translate(22.3 337.9) rotate(-90)" class="ti yt" text-anchor="middle">Lattice Rotation (degree)</text>
<text x="266.5" y="253.3" class="nt" text-anchor="end">φ1=π/5, φ=φ2=π/4</text>
<text transform="translate(2.6 255.9) scale(0.84 1)" class="pl">(c)</text>
<g stroke-linejoin="round">
<polyline points="315.5,337.15 334.22,337.08 352.93,337.01 371.65,336.93 390.37,336.86 409.08,336.79 427.8,336.72 446.52,336.64 465.23,336.57 483.95,336.5 502.67,336.43" fill="none" stroke="#44de44" stroke-width="1.25"/>
<polyline points="315.5,337.15 334.22,335.55 352.93,333.94 371.65,332.34 390.37,330.73 409.08,329.13 427.8,327.53 446.52,325.92 465.23,324.32 483.95,322.71 502.67,321.11" fill="none" stroke="#44de44" stroke-width="1.25"/>
<polyline points="315.5,337.15 334.22,338.87 352.93,340.59 371.65,342.31 390.37,344.02 409.08,345.74 427.8,347.46 446.52,349.18 465.23,350.9 483.95,352.62 502.67,354.34" fill="none" stroke="#44de44" stroke-width="1.25"/>
<polyline points="315.5,337.15 334.22,332.42 352.93,327.68 371.65,322.95 390.37,318.22 409.08,313.48 427.8,308.75 446.52,304.02 465.23,299.28 483.95,294.55 502.67,289.81" fill="none" stroke="#e2405a" stroke-width="1.25"/>
<polyline points="315.5,337.15 334.22,336.61 352.93,336.06 371.65,335.52 390.37,334.98 409.08,334.44 427.8,333.89 446.52,333.35 465.23,332.81 483.95,332.27 502.67,331.72" fill="none" stroke="#e2405a" stroke-width="1.25"/>
<polyline points="315.5,337.15 334.22,339.26 352.93,341.37 371.65,343.48 390.37,345.59 409.08,347.7 427.8,349.81 446.52,351.92 465.23,354.03 483.95,356.14 502.67,358.25" fill="none" stroke="#e2405a" stroke-width="1.25"/>
<polyline points="315.5,337.15 334.22,345.59 352.93,354.64 371.65,363.74 390.37,372.37 409.08,381.35 427.8,390.15 446.52,399.08 465.23,407.76 483.95,416.57 502.67,425.67" fill="none" stroke="#4646e0" stroke-width="1.25"/>
<polyline points="315.5,337.15 334.22,333.41 352.93,329.67 371.65,325.93 390.37,322.2 409.08,318.46 427.8,314.72 446.52,310.98 465.23,307.24 483.95,303.5 502.67,299.76" fill="none" stroke="#4646e0" stroke-width="1.25"/>
<polyline points="315.5,337.15 334.22,345.59 352.93,353.25 371.65,361.03 390.37,368.87 409.08,376.53 427.8,384.67 446.52,392.57 465.23,400.4 483.95,408.48 502.67,416.38" fill="none" stroke="#4646e0" stroke-width="1.25"/>
<circle cx="334.22" cy="337.08" r="2.3" fill="#1fe01f"/>
<circle cx="352.93" cy="337.01" r="2.3" fill="#1fe01f"/>
<circle cx="371.65" cy="336.93" r="2.3" fill="#1fe01f"/>
<circle cx="390.37" cy="336.86" r="2.3" fill="#1fe01f"/>
<circle cx="409.08" cy="336.79" r="2.3" fill="#1fe01f"/>
<circle cx="427.8" cy="336.72" r="2.3" fill="#1fe01f"/>
<circle cx="446.52" cy="336.64" r="2.3" fill="#1fe01f"/>
<circle cx="465.23" cy="336.57" r="2.3" fill="#1fe01f"/>
<circle cx="483.95" cy="336.5" r="2.3" fill="#1fe01f"/>
<circle cx="502.67" cy="336.43" r="2.3" fill="#1fe01f"/>
<circle cx="334.22" cy="335.55" r="1.8" fill="#66ec66" stroke="#1fe01f" stroke-width="0.9"/><path d="M334.22 333.75A1.8 1.8 0 0 0 334.22 337.35Z" fill="#1fe01f"/>
<circle cx="352.93" cy="333.94" r="1.8" fill="#66ec66" stroke="#1fe01f" stroke-width="0.9"/><path d="M352.93 332.14A1.8 1.8 0 0 0 352.93 335.74Z" fill="#1fe01f"/>
<circle cx="371.65" cy="332.34" r="1.8" fill="#66ec66" stroke="#1fe01f" stroke-width="0.9"/><path d="M371.65 330.54A1.8 1.8 0 0 0 371.65 334.14Z" fill="#1fe01f"/>
<circle cx="390.37" cy="330.73" r="1.8" fill="#66ec66" stroke="#1fe01f" stroke-width="0.9"/><path d="M390.37 328.93A1.8 1.8 0 0 0 390.37 332.53Z" fill="#1fe01f"/>
<circle cx="409.08" cy="329.13" r="1.8" fill="#66ec66" stroke="#1fe01f" stroke-width="0.9"/><path d="M409.08 327.33A1.8 1.8 0 0 0 409.08 330.93Z" fill="#1fe01f"/>
<circle cx="427.8" cy="327.53" r="1.8" fill="#66ec66" stroke="#1fe01f" stroke-width="0.9"/><path d="M427.8 325.73A1.8 1.8 0 0 0 427.8 329.33Z" fill="#1fe01f"/>
<circle cx="446.52" cy="325.92" r="1.8" fill="#66ec66" stroke="#1fe01f" stroke-width="0.9"/><path d="M446.52 324.12A1.8 1.8 0 0 0 446.52 327.72Z" fill="#1fe01f"/>
<circle cx="465.23" cy="324.32" r="1.8" fill="#66ec66" stroke="#1fe01f" stroke-width="0.9"/><path d="M465.23 322.52A1.8 1.8 0 0 0 465.23 326.12Z" fill="#1fe01f"/>
<circle cx="483.95" cy="322.71" r="1.8" fill="#66ec66" stroke="#1fe01f" stroke-width="0.9"/><path d="M483.95 320.91A1.8 1.8 0 0 0 483.95 324.51Z" fill="#1fe01f"/>
<circle cx="502.67" cy="321.11" r="1.8" fill="#66ec66" stroke="#1fe01f" stroke-width="0.9"/><path d="M502.67 319.31A1.8 1.8 0 0 0 502.67 322.91Z" fill="#1fe01f"/>
<circle cx="334.22" cy="338.87" r="1.8" fill="#fff" stroke="#1fe01f" stroke-width="0.9"/>
<circle cx="352.93" cy="340.59" r="1.8" fill="#fff" stroke="#1fe01f" stroke-width="0.9"/>
<circle cx="371.65" cy="342.31" r="1.8" fill="#fff" stroke="#1fe01f" stroke-width="0.9"/>
<circle cx="390.37" cy="344.02" r="1.8" fill="#fff" stroke="#1fe01f" stroke-width="0.9"/>
<circle cx="409.08" cy="345.74" r="1.8" fill="#fff" stroke="#1fe01f" stroke-width="0.9"/>
<circle cx="427.8" cy="347.46" r="1.8" fill="#fff" stroke="#1fe01f" stroke-width="0.9"/>
<circle cx="446.52" cy="349.18" r="1.8" fill="#fff" stroke="#1fe01f" stroke-width="0.9"/>
<circle cx="465.23" cy="350.9" r="1.8" fill="#fff" stroke="#1fe01f" stroke-width="0.9"/>
<circle cx="483.95" cy="352.62" r="1.8" fill="#fff" stroke="#1fe01f" stroke-width="0.9"/>
<circle cx="502.67" cy="354.34" r="1.8" fill="#fff" stroke="#1fe01f" stroke-width="0.9"/>
<circle cx="334.22" cy="345.59" r="2.3" fill="#1515f0"/>
<circle cx="352.93" cy="354.64" r="2.3" fill="#1515f0"/>
<circle cx="371.65" cy="363.74" r="2.3" fill="#1515f0"/>
<circle cx="390.37" cy="372.37" r="2.3" fill="#1515f0"/>
<circle cx="409.08" cy="381.35" r="2.3" fill="#1515f0"/>
<circle cx="427.8" cy="390.15" r="2.3" fill="#1515f0"/>
<circle cx="446.52" cy="399.08" r="2.3" fill="#1515f0"/>
<circle cx="465.23" cy="407.76" r="2.3" fill="#1515f0"/>
<circle cx="483.95" cy="416.57" r="2.3" fill="#1515f0"/>
<circle cx="502.67" cy="425.67" r="2.3" fill="#1515f0"/>
<circle cx="334.22" cy="333.41" r="1.8" fill="#6464f2" stroke="#1515f0" stroke-width="0.9"/><path d="M334.22 331.61A1.8 1.8 0 0 0 334.22 335.21Z" fill="#1515f0"/>
<circle cx="352.93" cy="329.67" r="1.8" fill="#6464f2" stroke="#1515f0" stroke-width="0.9"/><path d="M352.93 327.87A1.8 1.8 0 0 0 352.93 331.47Z" fill="#1515f0"/>
<circle cx="371.65" cy="325.93" r="1.8" fill="#6464f2" stroke="#1515f0" stroke-width="0.9"/><path d="M371.65 324.13A1.8 1.8 0 0 0 371.65 327.73Z" fill="#1515f0"/>
<circle cx="390.37" cy="322.2" r="1.8" fill="#6464f2" stroke="#1515f0" stroke-width="0.9"/><path d="M390.37 320.4A1.8 1.8 0 0 0 390.37 324Z" fill="#1515f0"/>
<circle cx="409.08" cy="318.46" r="1.8" fill="#6464f2" stroke="#1515f0" stroke-width="0.9"/><path d="M409.08 316.66A1.8 1.8 0 0 0 409.08 320.26Z" fill="#1515f0"/>
<circle cx="427.8" cy="314.72" r="1.8" fill="#6464f2" stroke="#1515f0" stroke-width="0.9"/><path d="M427.8 312.92A1.8 1.8 0 0 0 427.8 316.52Z" fill="#1515f0"/>
<circle cx="446.52" cy="310.98" r="1.8" fill="#6464f2" stroke="#1515f0" stroke-width="0.9"/><path d="M446.52 309.18A1.8 1.8 0 0 0 446.52 312.78Z" fill="#1515f0"/>
<circle cx="465.23" cy="307.24" r="1.8" fill="#6464f2" stroke="#1515f0" stroke-width="0.9"/><path d="M465.23 305.44A1.8 1.8 0 0 0 465.23 309.04Z" fill="#1515f0"/>
<circle cx="483.95" cy="303.5" r="1.8" fill="#6464f2" stroke="#1515f0" stroke-width="0.9"/><path d="M483.95 301.7A1.8 1.8 0 0 0 483.95 305.3Z" fill="#1515f0"/>
<circle cx="502.67" cy="299.76" r="1.8" fill="#6464f2" stroke="#1515f0" stroke-width="0.9"/><path d="M502.67 297.96A1.8 1.8 0 0 0 502.67 301.56Z" fill="#1515f0"/>
<circle cx="334.22" cy="345.59" r="1.8" fill="#fff" stroke="#1515f0" stroke-width="0.9"/>
<circle cx="352.93" cy="353.25" r="1.8" fill="#fff" stroke="#1515f0" stroke-width="0.9"/>
<circle cx="371.65" cy="361.03" r="1.8" fill="#fff" stroke="#1515f0" stroke-width="0.9"/>
<circle cx="390.37" cy="368.87" r="1.8" fill="#fff" stroke="#1515f0" stroke-width="0.9"/>
<circle cx="409.08" cy="376.53" r="1.8" fill="#fff" stroke="#1515f0" stroke-width="0.9"/>
<circle cx="427.8" cy="384.67" r="1.8" fill="#fff" stroke="#1515f0" stroke-width="0.9"/>
<circle cx="446.52" cy="392.57" r="1.8" fill="#fff" stroke="#1515f0" stroke-width="0.9"/>
<circle cx="465.23" cy="400.4" r="1.8" fill="#fff" stroke="#1515f0" stroke-width="0.9"/>
<circle cx="483.95" cy="408.48" r="1.8" fill="#fff" stroke="#1515f0" stroke-width="0.9"/>
<circle cx="502.67" cy="416.38" r="1.8" fill="#fff" stroke="#1515f0" stroke-width="0.9"/>
<circle cx="334.22" cy="332.42" r="2.3" fill="#f01010"/>
<circle cx="352.93" cy="327.68" r="2.3" fill="#f01010"/>
<circle cx="371.65" cy="322.95" r="2.3" fill="#f01010"/>
<circle cx="390.37" cy="318.22" r="2.3" fill="#f01010"/>
<circle cx="409.08" cy="313.48" r="2.3" fill="#f01010"/>
<circle cx="427.8" cy="308.75" r="2.3" fill="#f01010"/>
<circle cx="446.52" cy="304.02" r="2.3" fill="#f01010"/>
<circle cx="465.23" cy="299.28" r="2.3" fill="#f01010"/>
<circle cx="483.95" cy="294.55" r="2.3" fill="#f01010"/>
<circle cx="502.67" cy="289.81" r="2.3" fill="#f01010"/>
<circle cx="334.22" cy="336.61" r="1.8" fill="#f26262" stroke="#f01010" stroke-width="0.9"/><path d="M334.22 334.81A1.8 1.8 0 0 0 334.22 338.41Z" fill="#f01010"/>
<circle cx="352.93" cy="336.06" r="1.8" fill="#f26262" stroke="#f01010" stroke-width="0.9"/><path d="M352.93 334.26A1.8 1.8 0 0 0 352.93 337.86Z" fill="#f01010"/>
<circle cx="371.65" cy="335.52" r="1.8" fill="#f26262" stroke="#f01010" stroke-width="0.9"/><path d="M371.65 333.72A1.8 1.8 0 0 0 371.65 337.32Z" fill="#f01010"/>
<circle cx="390.37" cy="334.98" r="1.8" fill="#f26262" stroke="#f01010" stroke-width="0.9"/><path d="M390.37 333.18A1.8 1.8 0 0 0 390.37 336.78Z" fill="#f01010"/>
<circle cx="409.08" cy="334.44" r="1.8" fill="#f26262" stroke="#f01010" stroke-width="0.9"/><path d="M409.08 332.64A1.8 1.8 0 0 0 409.08 336.24Z" fill="#f01010"/>
<circle cx="427.8" cy="333.89" r="1.8" fill="#f26262" stroke="#f01010" stroke-width="0.9"/><path d="M427.8 332.09A1.8 1.8 0 0 0 427.8 335.69Z" fill="#f01010"/>
<circle cx="446.52" cy="333.35" r="1.8" fill="#f26262" stroke="#f01010" stroke-width="0.9"/><path d="M446.52 331.55A1.8 1.8 0 0 0 446.52 335.15Z" fill="#f01010"/>
<circle cx="465.23" cy="332.81" r="1.8" fill="#f26262" stroke="#f01010" stroke-width="0.9"/><path d="M465.23 331.01A1.8 1.8 0 0 0 465.23 334.61Z" fill="#f01010"/>
<circle cx="483.95" cy="332.27" r="1.8" fill="#f26262" stroke="#f01010" stroke-width="0.9"/><path d="M483.95 330.47A1.8 1.8 0 0 0 483.95 334.07Z" fill="#f01010"/>
<circle cx="502.67" cy="331.72" r="1.8" fill="#f26262" stroke="#f01010" stroke-width="0.9"/><path d="M502.67 329.92A1.8 1.8 0 0 0 502.67 333.52Z" fill="#f01010"/>
<circle cx="334.22" cy="339.26" r="1.8" fill="#fff" stroke="#f01010" stroke-width="0.9"/>
<circle cx="352.93" cy="341.37" r="1.8" fill="#fff" stroke="#f01010" stroke-width="0.9"/>
<circle cx="371.65" cy="343.48" r="1.8" fill="#fff" stroke="#f01010" stroke-width="0.9"/>
<circle cx="390.37" cy="345.59" r="1.8" fill="#fff" stroke="#f01010" stroke-width="0.9"/>
<circle cx="409.08" cy="347.7" r="1.8" fill="#fff" stroke="#f01010" stroke-width="0.9"/>
<circle cx="427.8" cy="349.81" r="1.8" fill="#fff" stroke="#f01010" stroke-width="0.9"/>
<circle cx="446.52" cy="351.92" r="1.8" fill="#fff" stroke="#f01010" stroke-width="0.9"/>
<circle cx="465.23" cy="354.03" r="1.8" fill="#fff" stroke="#f01010" stroke-width="0.9"/>
<circle cx="483.95" cy="356.14" r="1.8" fill="#fff" stroke="#f01010" stroke-width="0.9"/>
<circle cx="502.67" cy="358.25" r="1.8" fill="#fff" stroke="#f01010" stroke-width="0.9"/>
</g>
<rect x="316.1" y="247" width="62.7" height="58" fill="#fff" stroke="#8a8a8a" stroke-width="1"/>
<path d="M317 251.5H329.4" stroke="#44de44" stroke-width="1.1"/>
<circle cx="323.1" cy="251.5" r="2.1" fill="#1fe01f"/>
<text x="330.3" y="253.4" class="lg">R1 (k = 0.0)</text>
<path d="M317 257.8H329.4" stroke="#44de44" stroke-width="1.1"/>
<circle cx="323.1" cy="257.8" r="1.6" fill="#66ec66" stroke="#1fe01f" stroke-width="0.9"/><path d="M323.1 256.2A1.6 1.6 0 0 0 323.1 259.4Z" fill="#1fe01f"/>
<text x="330.3" y="259.7" class="lg">R2 (k = 0.0)</text>
<path d="M317 264.1H329.4" stroke="#44de44" stroke-width="1.1"/>
<circle cx="323.1" cy="264.1" r="1.6" fill="#fff" stroke="#1fe01f" stroke-width="0.9"/>
<text x="330.3" y="266" class="lg">R3 (k = 0.0)</text>
<path d="M317 270.4H329.4" stroke="#e2405a" stroke-width="1.1"/>
<circle cx="323.1" cy="270.4" r="2.1" fill="#f01010"/>
<text x="330.3" y="272.3" class="lg">R1 (k = 0.5)</text>
<path d="M317 276.7H329.4" stroke="#e2405a" stroke-width="1.1"/>
<circle cx="323.1" cy="276.7" r="1.6" fill="#f26262" stroke="#f01010" stroke-width="0.9"/><path d="M323.1 275.1A1.6 1.6 0 0 0 323.1 278.3Z" fill="#f01010"/>
<text x="330.3" y="278.6" class="lg">R2 (k = 0.5)</text>
<path d="M317 283H329.4" stroke="#e2405a" stroke-width="1.1"/>
<circle cx="323.1" cy="283" r="1.6" fill="#fff" stroke="#f01010" stroke-width="0.9"/>
<text x="330.3" y="284.9" class="lg">R3 (k = 0.5)</text>
<path d="M317 289.3H329.4" stroke="#4646e0" stroke-width="1.1"/>
<circle cx="323.1" cy="289.3" r="2.1" fill="#1515f0"/>
<text x="330.3" y="291.2" class="lg">R1 (k = 1.0)</text>
<path d="M317 295.6H329.4" stroke="#4646e0" stroke-width="1.1"/>
<circle cx="323.1" cy="295.6" r="1.6" fill="#6464f2" stroke="#1515f0" stroke-width="0.9"/><path d="M323.1 294A1.6 1.6 0 0 0 323.1 297.2Z" fill="#1515f0"/>
<text x="330.3" y="297.5" class="lg">R2 (k = 1.0)</text>
<path d="M317 301.9H329.4" stroke="#4646e0" stroke-width="1.1"/>
<circle cx="323.1" cy="301.9" r="1.6" fill="#fff" stroke="#1515f0" stroke-width="0.9"/>
<text x="330.3" y="303.8" class="lg">R3 (k = 1.0)</text>
<g fill="#fff" stroke="#1a1a1a" stroke-width="0.8" stroke-linejoin="round">
<path d="M362.1 256.8L365.2 254.2L372.2 254.2L369.1 256.8Z"/>
<path d="M369.1 256.8L372.2 254.2L372.2 261.2L369.1 263.8Z"/>
<rect x="362.1" y="256.8" width="7" height="7"/>
</g>
<path d="M367.1 254.1V248.9" stroke="#1fe01f" stroke-width="1.1"/>
<path d="M365.8 249.5L368.4 249.5L367.1 252.1Z" fill="#1fe01f"/>
<path d="M366.4 259.7L359.9 265.2" stroke="#1fe01f" stroke-width="1.1"/>
<path d="M366.7 259.4L363.2 260.7L365.4 262.7Z" fill="#1fe01f"/>
<g fill="#fff" stroke="#1a1a1a" stroke-width="0.8" stroke-linejoin="round">
<path d="M362.1 274.1L365.2 271.5L372.2 271.5L369.1 274.1Z"/>
<path d="M369.1 274.1L372.2 271.5L372.2 278.5L369.1 281.1Z"/>
<rect x="362.1" y="274.1" width="7" height="7"/>
</g>
<path d="M367.1 271.4V266.2" stroke="#f01010" stroke-width="1.1"/>
<path d="M365.8 266.8L368.4 266.8L367.1 269.4Z" fill="#f01010"/>
<path d="M372 276.5H377.8" stroke="#f01010" stroke-width="1.1"/>
<path d="M374.8 275.2L374.8 277.8L372.1 276.5Z" fill="#f01010"/>
<path d="M366.4 277L359.9 282.5" stroke="#f01010" stroke-width="1.1"/>
<path d="M366.7 276.7L363.2 278L365.4 280Z" fill="#f01010"/>
<g fill="#fff" stroke="#1a1a1a" stroke-width="0.8" stroke-linejoin="round">
<path d="M361.7 292L364.8 289.4L371.8 289.4L368.7 292Z"/>
<path d="M368.7 292L371.8 289.4L371.8 296.4L368.7 299Z"/>
<rect x="361.7" y="292" width="7" height="7"/>
</g>
<path d="M366.7 289.3V284.1" stroke="#1515f0" stroke-width="1.1"/>
<path d="M365.4 284.7L368 284.7L366.7 287.3Z" fill="#1515f0"/>
<path d="M371.6 294.4H377.4" stroke="#1515f0" stroke-width="1.1"/>
<path d="M374.4 293.1L374.4 295.7L371.7 294.4Z" fill="#1515f0"/>
<rect x="315.5" y="246.7" width="224.6" height="180.9" fill="none" stroke="#575757" stroke-width="1.3"/>
<path d="M315.5 427.6V431.2M334.22 427.6V429.6M352.93 427.6V431.2M371.65 427.6V429.6M390.37 427.6V431.2M409.08 427.6V429.6M427.8 427.6V431.2M446.52 427.6V429.6M465.23 427.6V431.2M483.95 427.6V429.6M502.67 427.6V431.2M521.38 427.6V429.6M540.1 427.6V431.2M315.5 427.6H311.5M315.5 412.52H313.5M315.5 397.45H311.5M315.5 382.38H313.5M315.5 367.3H311.5M315.5 352.22H313.5M315.5 337.15H311.5M315.5 322.07H313.5M315.5 307H311.5M315.5 291.92H313.5M315.5 276.85H311.5M315.5 261.77H313.5M315.5 246.7H311.5" stroke="#575757" stroke-width="1.1" fill="none"/>
<text transform="translate(315.5 439.9) scale(0.9 1)" class="tk" text-anchor="middle">0</text>
<text transform="translate(352.93 439.9) scale(0.9 1)" class="tk" text-anchor="middle">2</text>
<text transform="translate(390.37 439.9) scale(0.9 1)" class="tk" text-anchor="middle">4</text>
<text transform="translate(427.8 439.9) scale(0.9 1)" class="tk" text-anchor="middle">6</text>
<text transform="translate(465.23 439.9) scale(0.9 1)" class="tk" text-anchor="middle">8</text>
<text transform="translate(502.67 439.9) scale(0.9 1)" class="tk" text-anchor="middle">10</text>
<text transform="translate(540.1 439.9) scale(0.9 1)" class="tk" text-anchor="middle">12</text>
<text transform="translate(309.5 430.2) scale(0.9 1)" class="tk" text-anchor="end">-15</text>
<text transform="translate(309.5 400.05) scale(0.9 1)" class="tk" text-anchor="end">-10</text>
<text transform="translate(309.5 369.9) scale(0.9 1)" class="tk" text-anchor="end">-5</text>
<text transform="translate(309.5 339.75) scale(0.9 1)" class="tk" text-anchor="end">0</text>
<text transform="translate(309.5 309.6) scale(0.9 1)" class="tk" text-anchor="end">5</text>
<text transform="translate(309.5 279.45) scale(0.9 1)" class="tk" text-anchor="end">10</text>
<text transform="translate(309.5 249.3) scale(0.9 1)" class="tk" text-anchor="end">15</text>
<text x="345.35" y="451.6" class="ti">Maximum Principal Plastic Strain ε<tspan class="sp" dx="1.0" dy="-2.4">p</tspan><tspan dy="2.4" dx="0.7"> (%)</tspan></text>
<text transform="translate(294.7 337.25) rotate(-90)" class="ti yt" text-anchor="middle">Lattice Rotation (degree)</text>
<text x="538.3" y="253.4" class="nt" text-anchor="end">φ=π/5, φ1=φ2=π/4</text>
<text transform="translate(274.8 256.6) scale(0.84 1)" class="pl">(d)</text>
</svg>
</body></html>
